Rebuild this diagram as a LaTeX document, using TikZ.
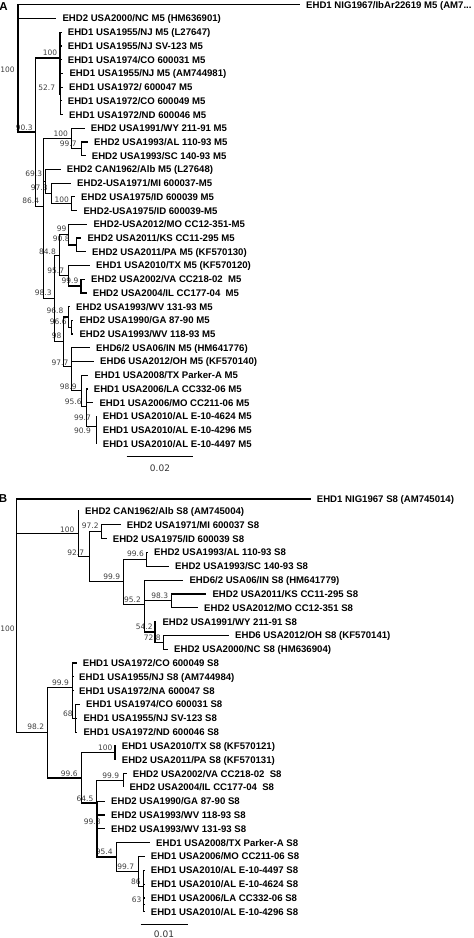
\documentclass[tikz,border=0pt]{standalone}
\usepackage{fontspec}
\setmainfont{Liberation Sans}
\newfontfamily\labfont{DejaVu Sans}
\begin{document}
\begin{tikzpicture}[x=1pt,y=-1pt,
  br/.style={line width=1.2pt},
  tl/.style={line width=1.2pt, shorten >=6pt},
  tx/.style={anchor=west, inner sep=0pt, text height=6.9pt, text depth=0pt, font=\fontsize{9.6}{11}\selectfont\bfseries},
  bs/.style={inner sep=0pt, font=\labfont\fontsize{7.5}{9}\selectfont, text=black!75},
  sc/.style={inner sep=0pt, font=\labfont\fontsize{9}{10}\selectfont, text=black!80},
  panel/.style={inner sep=0pt, font=\fontsize{11.5}{12}\selectfont\bfseries},
  sbar/.style={line width=0.9pt}]
\useasboundingbox (0,0) rectangle (474,938);
% ---------------- panel letters
\node[panel] (pA) at (3.5,7) {A};
\node[panel] (pB) at (3,499) {B};
% ---------------- A tips
\node[tx] (a1) at (306,4.8) {EHD1 NIG1967/IbAr22619 M5 (AM7...};
\node[tx] (a2) at (62.3,18.52) {EHD2 USA2000/NC M5 (HM636901)};
\node[tx] (a3) at (67.7,32.24) {EHD1 USA1955/NJ M5 (L27647)};
\node[tx] (a4) at (67.7,45.96) {EHD1 USA1955/NJ SV-123 M5};
\node[tx] (a5) at (67.7,59.68) {EHD1 USA1974/CO 600031 M5};
\node[tx] (a6) at (69.3,73.4) {EHD1 USA1955/NJ M5 (AM744981)};
\node[tx] (a7) at (69,87.12) {EHD1 USA1972/ 600047 M5};
\node[tx] (a8) at (67.7,100.84) {EHD1 USA1972/CO 600049 M5};
\node[tx] (a9) at (69,114.56) {EHD1 USA1972/ND 600046 M5};
\node[tx] (a10) at (90.7,128.28) {EHD2 USA1991/WY 211-91 M5};
\node[tx] (a11) at (94,142.0) {EHD2 USA1993/AL 110-93 M5};
\node[tx] (a12) at (91.7,155.72) {EHD2 USA1993/SC 140-93 M5};
\node[tx] (a13) at (66.7,169.44) {EHD2 CAN1962/Alb M5 (L27648)};
\node[tx] (a14) at (77,183.16) {EHD2-USA1971/MI 600037-M5};
\node[tx] (a15) at (81,196.88) {EHD2 USA1975/ID 600039 M5};
\node[tx] (a16) at (83.3,210.6) {EHD2-USA1975/ID 600039-M5};
\node[tx] (a17) at (93.3,224.32) {EHD2-USA2012/MO CC12-351-M5};
\node[tx] (a18) at (87.3,238.04) {EHD2 USA2011/KS CC11-295 M5};
\node[tx] (a19) at (92,251.76) {EHD2 USA2011/PA M5 (KF570130)};
\node[tx] (a20) at (96,265.48) {EHD1 USA2010/TX M5 (KF570120)};
\node[tx] (a21) at (91,279.2) {EHD2 USA2002/VA CC218-02\ \ M5};
\node[tx] (a22) at (92.7,292.92) {EHD2 USA2004/IL CC177-04\ \ M5};
\node[tx] (a23) at (76,306.64) {EHD2 USA1993/WV 131-93 M5};
\node[tx] (a24) at (79.3,320.36) {EHD2 USA1990/GA 87-90 M5};
\node[tx] (a25) at (79.3,334.08) {EHD2 USA1993/WV 118-93 M5};
\node[tx] (a26) at (96,347.8) {EHD6/2 USA06/IN M5 (HM641776)};
\node[tx] (a27) at (100,361.52) {EHD6 USA2012/OH M5 (KF570140)};
\node[tx] (a28) at (94.3,375.24) {EHD1 USA2008/TX Parker-A M5};
\node[tx] (a29) at (93.7,388.96) {EHD1 USA2006/LA CC332-06 M5};
\node[tx] (a30) at (99.3,402.68) {EHD1 USA2006/MO CC211-06 M5};
\node[tx] (a31) at (102.7,416.4) {EHD1 USA2010/AL E-10-4624 M5};
\node[tx] (a32) at (102.7,430.12) {EHD1 USA2010/AL E-10-4296 M5};
\node[tx] (a33) at (102.7,443.84) {EHD1 USA2010/AL E-10-4497 M5};
% ---------------- A internal nodes
\coordinate (ra) at (18,68.4);
\coordinate (a903) at (35.7,132.07);
\coordinate (a100a) at (60,57.97);
\coordinate (a527) at (60.2,93.98);
\coordinate (a864) at (43.3,206.17);
\coordinate (a100b) at (71.7,138.57);
\coordinate (a997a) at (81.7,148.86);
\coordinate (a693) at (45.7,181.45);
\coordinate (a973) at (51.7,193.45);
\coordinate (a100c) at (71.7,203.74);
\coordinate (a983) at (54.3,298.5);
\coordinate (a848) at (59.3,255.19);
\coordinate (a99) at (68.3,234.61);
\coordinate (a908) at (76.7,244.9);
\coordinate (a957) at (68.3,275.77);
\coordinate (a999) at (81,286.06);
\coordinate (a98) at (63.3,341.8);
\coordinate (a968) at (68.3,316.93);
\coordinate (a96x) at (71.7,327.22);
\coordinate (a977) at (71.7,366.67);
\coordinate (a989) at (81.7,390.68);
\coordinate (a956) at (86.7,406.11);
\coordinate (a997c) at (96.2,426.69);
\coordinate (a909) at (96.3,436.98);
% ---------------- A support labels
\node[bs] (la0) at (7.5,69.3) {100};
\node[bs] (la1) at (50,52.3) {100};
\node[bs] (la2) at (46.7,87.7) {52.7};
\node[bs] (la3) at (24.2,127.3) {90.3};
\node[bs] (la4) at (60.8,133.3) {100};
\node[bs] (la5) at (68.3,143.3) {99.7};
\node[bs] (la6) at (33.7,174) {69.3};
\node[bs] (la7) at (39.2,188) {97.3};
\node[bs] (la8) at (30.8,201) {86.4};
\node[bs] (la9) at (61.7,199.5) {100};
\node[bs] (la10) at (61.7,228.3) {99};
\node[bs] (la11) at (61.3,239) {90.8};
\node[bs] (la12) at (47.5,251.5) {84.8};
\node[bs] (la13) at (55.8,270.7) {95.7};
\node[bs] (la14) at (70,281) {99.9};
\node[bs] (la15) at (43.3,293) {98.3};
\node[bs] (la16) at (55,311) {96.8};
\node[bs] (la17) at (58.3,322) {96.6};
\node[bs] (la18) at (56.7,336) {98};
\node[bs] (la19) at (60,362.3) {97.7};
\node[bs] (la20) at (68.3,386.7) {98.9};
\node[bs] (la21) at (73.3,401.7) {95.6};
\node[bs] (la22) at (82.5,417.3) {99.7};
\node[bs] (la23) at (82.5,430.7) {90.9};
% ---------------- A branches
\foreach \p/\c in {ra/a903, a903/a100a, a903/a864, a100a/a527, a864/a100b, a864/a693, a864/a983,
  a100b/a997a, a693/a973, a973/a100c, a983/a848, a983/a98, a848/a99, a848/a957, a99/a908,
  a957/a999, a98/a968, a98/a977, a968/a96x, a977/a989, a989/a956, a956/a997c, a997c/a909}
  \draw[br] (\p) |- (\c);
\foreach \p/\c in {ra/a1, ra/a2, a100a/a3, a100a/a4, a100a/a5, a527/a6, a527/a7, a527/a8, a527/a9,
  a100b/a10, a997a/a11, a997a/a12, a693/a13, a973/a14, a100c/a15, a100c/a16, a99/a17, a908/a18,
  a908/a19, a957/a20, a999/a21, a999/a22, a968/a23, a96x/a24, a96x/a25, a977/a26, a977/a27,
  a989/a28, a956/a29, a956/a30, a997c/a31, a909/a32, a909/a33}
  \draw[tl] (\p) |- (\c.west);
% ---------------- A scale
\coordinate (sa1) at (126.7,456.7);
\coordinate (sa2) at (193.3,456.7);
\draw[sbar] (sa1) -- (sa2);
\node[sc] (sal) at (160,468.3) {0.02};
% ---------------- B tips
\node[tx] (b1) at (316.7,499) {EHD1 NIG1967 S8 (AM745014)};
\node[tx] (b2) at (85,511) {EHD2 CAN1962/Alb S8 (AM745004)};
\node[tx] (b3) at (126.7,524.82) {EHD2 USA1971/MI 600037 S8};
\node[tx] (b4) at (112.7,538.64) {EHD2 USA1975/ID 600039 S8};
\node[tx] (b5) at (154,552.46) {EHD2 USA1993/AL 110-93 S8};
\node[tx] (b6) at (175,566.28) {EHD2 USA1993/SC 140-93 S8};
\node[tx] (b7) at (189.3,580.1) {EHD6/2 USA06/IN S8 (HM641779)};
\node[tx] (b8) at (212.3,593.92) {EHD2 USA2011/KS CC11-295 S8};
\node[tx] (b9) at (204,607.74) {EHD2 USA2012/MO CC12-351 S8};
\node[tx] (b10) at (162.3,621.56) {EHD2 USA1991/WY 211-91 S8};
\node[tx] (b11) at (235,635.38) {EHD6 USA2012/OH S8 (KF570141)};
\node[tx] (b12) at (174,649.2) {EHD2 USA2000/NC S8 (HM636904)};
\node[tx] (b13) at (82.7,663.02) {EHD1 USA1972/CO 600049 S8};
\node[tx] (b14) at (79,676.84) {EHD1 USA1955/NJ S8 (AM744984)};
\node[tx] (b15) at (79,690.66) {EHD1 USA1972/NA 600047 S8};
\node[tx] (b16) at (86,704.48) {EHD1 USA1974/CO 600031 S8};
\node[tx] (b17) at (83.3,718.3) {EHD1 USA1955/NJ SV-123 S8};
\node[tx] (b18) at (83.3,732.12) {EHD1 USA1972/ND 600046 S8};
\node[tx] (b19) at (121.7,745.94) {EHD1 USA2010/TX S8 (KF570121)};
\node[tx] (b20) at (121.7,759.76) {EHD2 USA2011/PA S8 (KF570131)};
\node[tx] (b21) at (132.7,773.58) {EHD2 USA2002/VA CC218-02\ \ S8};
\node[tx] (b22) at (129.3,787.4) {EHD2 USA2004/IL CC177-04\ \ S8};
\node[tx] (b23) at (111,801.22) {EHD2 USA1990/GA 87-90 S8};
\node[tx] (b24) at (111,815.04) {EHD2 USA1993/WV 118-93 S8};
\node[tx] (b25) at (111,828.86) {EHD2 USA1993/WV 131-93 S8};
\node[tx] (b26) at (156,842.68) {EHD1 USA2008/TX Parker-A S8};
\node[tx] (b27) at (150.7,856.5) {EHD1 USA2006/MO CC211-06 S8};
\node[tx] (b28) at (150.7,870.32) {EHD1 USA2010/AL E-10-4497 S8};
\node[tx] (b29) at (150.7,884.14) {EHD1 USA2010/AL E-10-4624 S8};
\node[tx] (b30) at (150.7,897.96) {EHD1 USA2006/LA CC332-06 S8};
\node[tx] (b31) at (150.7,911.78) {EHD1 USA2010/AL E-10-4296 S8};
% ---------------- B internal nodes
\coordinate (rb) at (16.7,615.8);
\coordinate (b100) at (78.3,533.89);
\coordinate (b927) at (89.3,556.78);
\coordinate (b972) at (101.7,531.73);
\coordinate (b999) at (123.3,581.83);
\coordinate (b996) at (146.7,559.37);
\coordinate (b952) at (144.3,604.29);
\coordinate (b983) at (171.7,600.83);
\coordinate (b542) at (155,631.93);
\coordinate (b728) at (163.3,642.29);
\coordinate (b982) at (47.7,732.57);
\coordinate (b999b) at (72.7,687.2);
\coordinate (b68) at (75.5,718.3);
\coordinate (b996b) at (81.7,777.94);
\coordinate (b100d) at (115,752.85);
\coordinate (b645) at (96.7,803.02);
\coordinate (b999c) at (123.3,780.49);
\coordinate (b998) at (96.9,825.55);
\coordinate (b954) at (116.7,857.08);
\coordinate (b997) at (138.5,871.47);
\coordinate (b86) at (143.5,886.44);
\coordinate (b63) at (143.6,904.87);
% ---------------- B support labels
\node[bs] (lb0) at (7.5,628.3) {100};
\node[bs] (lb1) at (67.2,529.3) {100};
\node[bs] (lb2) at (90.2,526) {97.2};
\node[bs] (lb3) at (75.8,552.3) {92.7};
\node[bs] (lb4) at (135.5,554) {99.6};
\node[bs] (lb5) at (111.7,576.7) {99.9};
\node[bs] (lb6) at (159.7,595.7) {98.3};
\node[bs] (lb7) at (132.5,599.3) {95.2};
\node[bs] (lb8) at (144.2,626.7) {54.2};
\node[bs] (lb9) at (152.2,637.3) {72.8};
\node[bs] (lb10) at (60.5,682.7) {99.9};
\node[bs] (lb11) at (68,713.3) {68};
\node[bs] (lb12) at (35.8,726.7) {98.2};
\node[bs] (lb13) at (105.3,747.7) {100};
\node[bs] (lb14) at (69.2,773.3) {99.6};
\node[bs] (lb15) at (110.8,775.7) {99.9};
\node[bs] (lb16) at (85,799) {64.5};
\node[bs] (lb17) at (92.2,821.7) {99.8};
\node[bs] (lb18) at (104.2,851.7) {95.4};
\node[bs] (lb19) at (125.8,866.7) {99.7};
\node[bs] (lb20) at (135.8,881.7) {86};
\node[bs] (lb21) at (136.7,899.3) {63};
% ---------------- B branches
\foreach \p/\c in {rb/b100, rb/b982, b100/b927, b927/b972, b927/b999, b999/b996, b999/b952,
  b952/b983, b952/b542, b542/b728, b982/b999b, b982/b996b, b999b/b68, b996b/b100d, b996b/b645,
  b645/b999c, b645/b998, b998/b954, b954/b997, b997/b86, b86/b63}
  \draw[br] (\p) |- (\c);
\foreach \p/\c in {rb/b1, b100/b2, b972/b3, b972/b4, b996/b5, b996/b6, b952/b7, b983/b8, b983/b9,
  b542/b10, b728/b11, b728/b12, b999b/b13, b999b/b14, b999b/b15, b68/b16, b68/b17, b68/b18,
  b100d/b19, b100d/b20, b999c/b21, b999c/b22, b998/b23, b998/b24, b998/b25, b954/b26, b997/b27,
  b86/b28, b86/b29, b63/b30, b63/b31}
  \draw[tl] (\p) |- (\c.west);
% ---------------- B scale
\coordinate (sb1) at (140.7,924);
\coordinate (sb2) at (187.7,924);
\draw[sbar] (sb1) -- (sb2);
\node[sc] (sbl) at (164,934) {0.01};
\end{tikzpicture}
\end{document}
